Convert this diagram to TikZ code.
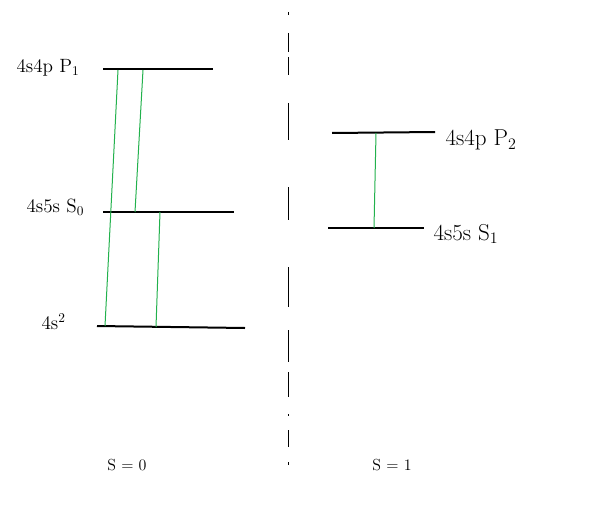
\documentclass[tikz,border=0pt]{standalone}
\usepackage{tikz}
\usepackage{amsmath, amssymb}
\tikzset{every picture/.style={line width=0.75pt}}
\definecolor{paintgreen}{RGB}{34,177,76}
\tikzset{
  level/.style={line width=1.5pt},
  trans/.style={color=paintgreen, line width=0.75pt},
  lbl/.style={inner sep=0.75pt}
}

\begin{document}
\begin{tikzpicture}[x=0.75pt,y=0.75pt,yscale=-1,xscale=1]
\useasboundingbox (0,0) rectangle (591,531);

%Level ends, S = 0
\coordinate (pOneL) at (103,69);
\coordinate (pOneR) at (213,69);
\coordinate (sZeroL) at (103,212);
\coordinate (sZeroR) at (234,212);
\coordinate (gsL) at (97,326);
\coordinate (gsR) at (245,328);
%Level ends, S = 1
\coordinate (pTwoL) at (332,133);
\coordinate (pTwoR) at (435,132);
\coordinate (sOneL) at (328,228);
\coordinate (sOneR) at (424,228);

%Straight Lines: levels
\draw [level] (pOneL) -- (pOneR) ;
\draw [level] (sZeroL) -- (sZeroR) ;
\draw [level] (gsL) -- (gsR) ;
\draw [level] (pTwoL) -- (pTwoR) ;
\draw [level] (sOneL) -- (sOneR) ;

%Transition ends
\coordinate (tAtop) at (118,70);
\coordinate (tAbot) at (105,326);
\coordinate (tBtop) at (143,70);
\coordinate (tBbot) at (135,212);
\coordinate (tCtop) at (160,212);
\coordinate (tCbot) at (156,327);
\coordinate (tDtop) at (376,133);
\coordinate (tDbot) at (374,228);

%Straight Lines: transitions
\draw [trans] (tAtop) -- (tAbot) ;
\draw [trans] (tBtop) -- (tBbot) ;
\draw [trans] (tCtop) -- (tCbot) ;
\draw [trans] (tDtop) -- (tDbot) ;

%Divider
\foreach \a/\b in {12/15,33/52,57/75,103/140,187/220,267/307,330/362,372/397,414/416,430/447,462/465}
  \draw (288,\a) -- (288,\b) ;

% Text Node
\node (lblPOne) [lbl, anchor=west, font=\Large] at (15,68) {4s4p P$_1$};
% Text Node
\node (lblSZero) [lbl, anchor=west, font=\Large] at (25,207) {4s5s S$_0$};
% Text Node
\node (lblGs) [lbl, anchor=west, font=\Large] at (40,322) {4s$^2$};
% Text Node
\node (lblPTwo) [lbl, anchor=west, font=\LARGE] at (444,140) {4s4p P$_2$};
% Text Node
\node (lblSOne) [lbl, anchor=west, font=\LARGE] at (432,234) {4s5s S$_1$};
% Text Node
\node (lblSpinZero) [lbl, font=\large] at (127,465) {S = 0};
% Text Node
\node (lblSpinOne) [lbl, font=\large] at (392,465) {S = 1};

\end{tikzpicture}
\end{document}
